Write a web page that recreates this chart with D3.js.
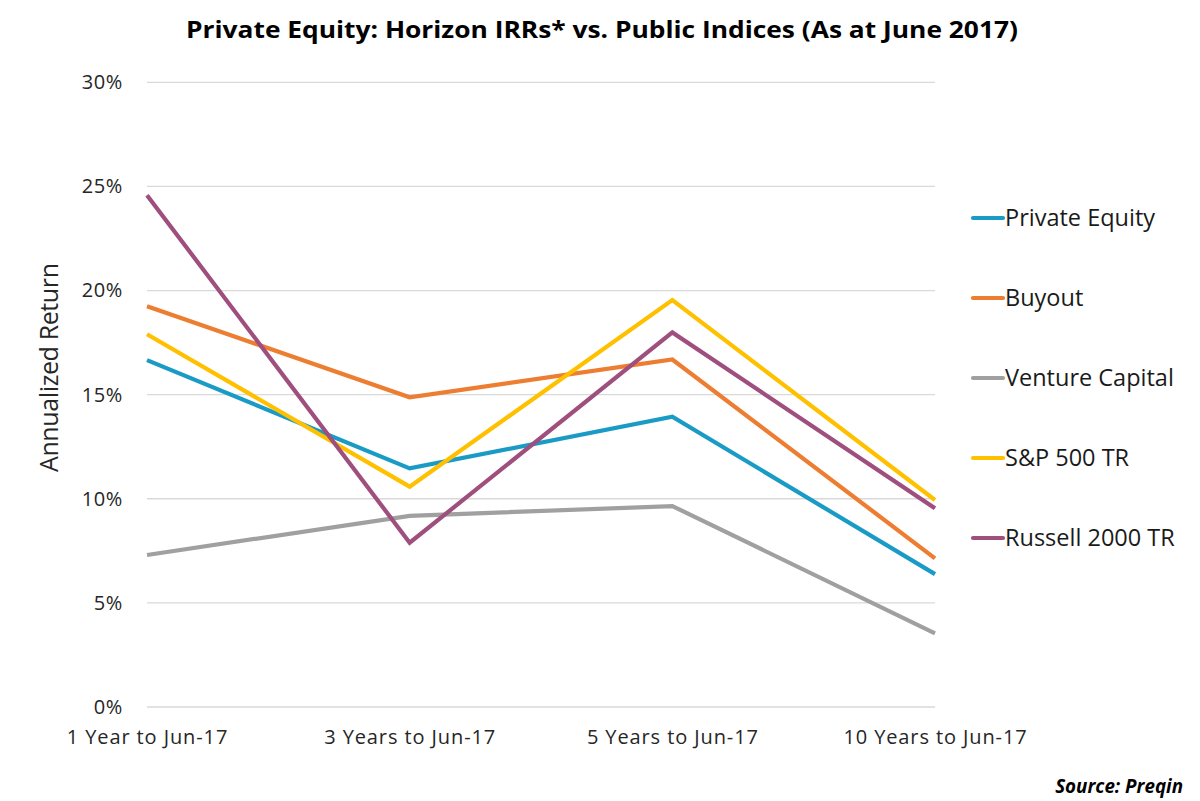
<!DOCTYPE html>
<html><head><meta charset="utf-8">
<script src="https://cdn.jsdelivr.net/npm/d3@7"></script>
<style>body{margin:0;background:#fff}svg{display:block}text{font-family:"Open Sans",sans-serif}</style>
</head><body>
<svg id="c" width="1200" height="801"></svg>
<script>
const categories = ["1 Year to Jun-17","3 Years to Jun-17","5 Years to Jun-17","10 Years to Jun-17"];
const seriesNames = ["Private Equity","Buyout","Venture Capital","S&P 500 TR","Russell 2000 TR"];
const seriesColors = ["#1a9bc5","#ed7d31","#a0a0a0","#ffc000","#9e4f7e"];
const privateEquity = [16.66, 11.46, 13.94, 6.38];
const buyout = [19.25, 14.87, 16.69, 7.14];
const ventureCapital = [7.3, 9.18, 9.65, 3.54];
const sp500 = [17.9, 10.58, 19.54, 9.94];
const russell2000 = [24.58, 7.89, 17.99, 9.54];
const yTicks = [0,5,10,15,20,25,30];
const seriesValues = [privateEquity, buyout, ventureCapital, sp500, russell2000];

const svg = d3.select("#c");
const x = d3.scalePoint().domain(categories).range([147, 935]);
const y = d3.scaleLinear().domain([0, 30]).range([707, 82.3]);

// gridlines
svg.append("g").selectAll("line").data(yTicks).join("line")
  .attr("x1", 147).attr("x2", 935)
  .attr("y1", d => y(d)).attr("y2", d => y(d))
  .attr("stroke", "#d9d9d9").attr("stroke-width", 1.3);

// y axis labels
const ya = svg.append("g").attr("transform", "translate(123,0)")
  .call(d3.axisLeft(y).tickValues(yTicks).tickFormat(d => d + "%").tickSize(0).tickPadding(0));
ya.select(".domain").remove();
ya.selectAll("text").attr("font-size", 20).attr("letter-spacing", "0.6px").attr("fill", "#262626").attr("font-family", "Open Sans");

// x axis labels
const xa = svg.append("g").attr("transform", "translate(0,707)")
  .call(d3.axisBottom(x).tickSize(0).tickPadding(23));
xa.select(".domain").remove();
xa.selectAll("text").attr("font-size", 20).attr("letter-spacing", "0.9px").attr("fill", "#262626").attr("font-family", "Open Sans");

// lines
const line = d3.line().x((d, i) => x(categories[i])).y(d => y(d));
svg.append("g").selectAll("path").data(seriesValues).join("path")
  .attr("d", d => line(d)).attr("fill", "none")
  .attr("stroke", (d, i) => seriesColors[i]).attr("stroke-width", 4.2)
  .attr("stroke-linejoin", "miter");

// legend
const lg = svg.append("g").selectAll("g").data(seriesNames).join("g")
  .attr("transform", (d, i) => `translate(973,${218 + i * 80})`);
lg.append("line").attr("x1", 0).attr("x2", 30).attr("y1", 0).attr("y2", 0)
  .attr("stroke", (d, i) => seriesColors[i]).attr("stroke-width", 4.2).attr("stroke-linecap", "round");
lg.append("text").attr("x", 32).attr("dy", "0.35em").attr("font-size", 23.5).attr("fill", "#1a1a1a").text(d => d);

// y title
svg.append("text").attr("transform", "translate(58,367.5) rotate(-90)")
  .attr("text-anchor", "middle").attr("font-size", 25).attr("fill", "#262626")
  .attr("textLength", 209).attr("lengthAdjust", "spacing").text("Annualized Return");

// title
svg.append("text").attr("x", 602).attr("y", 38).attr("text-anchor", "middle")
  .attr("font-size", 24).attr("font-weight", "bold").attr("fill", "#000")
  .attr("textLength", 832).attr("lengthAdjust", "spacingAndGlyphs")
  .text("Private Equity: Horizon IRRs* vs. Public Indices (As at June 2017)");

// source
svg.append("text").attr("x", 1183).attr("y", 793).attr("text-anchor", "end")
  .attr("font-size", 18.8).attr("font-weight", "bold").attr("font-style", "italic").attr("fill", "#000")
  .text("Source: Preqin");
</script>
</body></html>
